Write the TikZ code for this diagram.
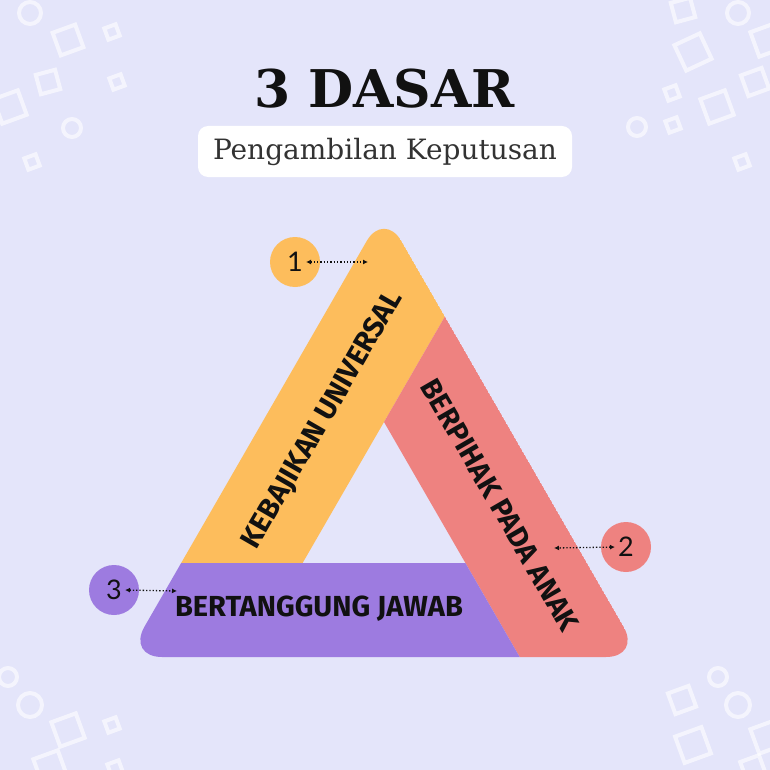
\documentclass[tikz,border=0pt]{standalone}
\usepackage{fontspec}
\setmainfont{DejaVu Serif}
\newfontfamily\titlefont{DejaVu Serif}
\newfontfamily\bandfont{Fira Sans}
\newfontfamily\numfont{Lato}
\usetikzlibrary{arrows.meta}
\definecolor{bgc}{HTML}{E4E5FA}
\definecolor{orangec}{HTML}{FDBD5C}
\definecolor{pinkc}{HTML}{EE8280}
\definecolor{purplec}{HTML}{9D7BE0}
\definecolor{inkc}{HTML}{111111}
\tikzset{
  deco/.style={draw=white, draw opacity=0.6, line width=4pt},
  band/.style={font=\bandfont\bfseries\fontsize{29}{32}\selectfont, text=inkc, inner sep=0pt},
  numcircle/.style={circle, minimum size=50pt, inner sep=0pt},
  numtext/.style={font=\numfont\fontsize{27}{30}\selectfont, text=inkc, inner sep=1pt},
  dotarrow/.style={dotted, line width=1.3pt, draw=inkc, {Latex[length=5pt,width=5pt]}-{Latex[length=5pt,width=5pt]}, shorten <=2pt}
}
\begin{document}
\begin{tikzpicture}[x=1pt,y=-1pt]
\useasboundingbox (0,0) rectangle (770,770);
\fill[bgc] (0,0) rectangle (770,770);
% background decorations
\foreach \x/\y/\s/\a in {68/40/24/20, 112/32/12/20, 48/82/20/15, 117/82/12/20, 10/107/26/20, 32/162/12/20,
  683/10/20/15, 693/52/28/25, 767/40/26/20, 755/82/22/20, 672/93/12/20, 717/107/26/20, 673/125/12/20, 742/162/12/20,
  68/730/26/20, 112/725/12/20, 50/767/26/20, 115/768/12/20,
  682/700/22/20, 693/745/28/20, 767/737/26/20, 753/768/20/20}
  \draw[deco, shift={(\x,\y)}, rotate=\a] (-\s/2,-\s/2) rectangle (\s/2,\s/2);
\foreach \x/\y/\r in {30/13/11, 72/128/9, 738/13/11, 637/127/9, 8/677/9, 30/705/12, 718/677/9, 738/705/12}
  \draw[deco] (\x,\y) circle (\r);
% title
\node[font=\titlefont\bfseries\fontsize{52}{56}\selectfont, text=inkc, inner sep=0pt] (title) at (384.5,89) {3 DASAR};
\node[fill=white, rounded corners=10pt, minimum width=374pt, minimum height=51pt, inner sep=0pt,
  font=\fontsize{28}{30}\selectfont, text=black!80] (sub) at (385,151.5) {Pengambilan Keputusan};
% triangle
\begin{scope}
\clip[rounded corners=35pt] (384,211) -- (641,657) -- (127,657) -- cycle;
\fill[orangec] (384,211) -- (444.9,316.5) -- (302.6,563) -- (180.8,563) -- cycle;
\fill[pinkc] (444.9,316.5) -- (641,657) -- (519.7,657) -- (384,422) -- cycle;
\fill[purplec] (180.8,563) -- (465.4,563) -- (519.7,657) -- (127,657) -- cycle;
\end{scope}
% labels
\node[band, rotate=60] (kb) at (323,420) {KEBAJIKAN UNIVERSAL};
\node[band, rotate=-60] (bp) at (500,505) {BERPIHAK PADA ANAK};
\node[band] (bt) at (319,609) {BERTANGGUNG JAWAB};
% number markers
\node[numcircle, fill=orangec] (c1) at (295,262) {};
\node[numcircle, fill=pinkc] (c2) at (626,547) {};
\node[numcircle, fill=purplec] (c3) at (114,590) {};
\node[numtext] (n1) at (c1) {1};
\node[numtext] (n2) at (c2) {2};
\node[numtext] (n3) at (c3) {3};
\coordinate (t1) at (368,262);
\coordinate (t2) at (554,548);
\coordinate (t3) at (177,591);
\draw[dotarrow] (n1.east) -- (t1);
\draw[dotarrow] (n2.west) -- (t2);
\draw[dotarrow] (n3.east) -- (t3);
\end{tikzpicture}
\end{document}
